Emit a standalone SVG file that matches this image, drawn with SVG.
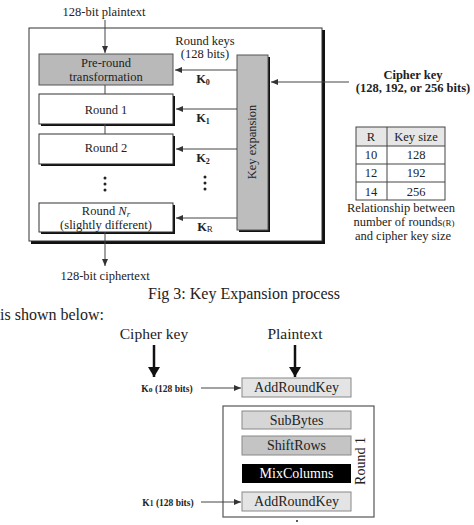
<svg xmlns="http://www.w3.org/2000/svg" width="474" height="525" viewBox="0 0 474 525">
<defs>
<style>
.t{font-family:'Liberation Serif','DejaVu Serif',serif}
.s11{font-size:12.5px}
.b{font-weight:bold}
.ln{stroke:#444;stroke-width:1;fill:none}
.box{fill:#fff;stroke:#333;stroke-width:1}
.sh{fill:#111}
</style>
<marker id="ah" markerWidth="8" markerHeight="8" refX="7" refY="4" orient="auto" markerUnits="userSpaceOnUse"><path d="M0,1 L7,4 L0,7 z" fill="#333"/></marker>
<marker id="ahb" markerWidth="12" markerHeight="12" refX="10" refY="6" orient="auto" markerUnits="userSpaceOnUse"><path d="M0,0 L10,6 L0,12 z" fill="#111"/></marker>
</defs>
<rect width="474" height="525" fill="#fff"/>
<g class="t" font-family="Liberation Serif, DejaVu Serif, serif" fill="#222">

<!-- Top diagram -->
<g id="outer">
<rect x="31" y="30" width="294" height="214" class="sh"/>
<rect x="29" y="28" width="293" height="213" class="box"/>
</g>
<g id="plaintext"><text x="104" y="16" class="s11" text-anchor="middle">128-bit plaintext</text></g>
<g id="preround">
<rect x="39" y="54" width="134" height="31" fill="#b9b9b9" stroke="#555"/>
<text x="106" y="67" class="s11" text-anchor="middle">Pre-round</text>
<text x="106" y="81" class="s11" text-anchor="middle">transformation</text>
</g>
<g id="round1">
<rect x="41" y="96" width="134" height="30" class="sh"/>
<rect x="39" y="94" width="134" height="30" class="box"/>
<text x="106" y="114" class="s11" text-anchor="middle">Round 1</text>
</g>
<g id="round2">
<rect x="41" y="136" width="134" height="30" class="sh"/>
<rect x="39" y="134" width="134" height="30" class="box"/>
<text x="106" y="152" class="s11" text-anchor="middle">Round 2</text>
</g>
<g id="dots1">
<circle cx="105" cy="178" r="1.5" fill="#222"/><circle cx="105" cy="184" r="1.5" fill="#222"/><circle cx="105" cy="190" r="1.5" fill="#222"/>
</g>
<g id="roundNr">
<rect x="41" y="205" width="134" height="29" class="sh"/>
<rect x="39" y="203" width="134" height="29" class="box"/>
<text x="106" y="215" class="s11" text-anchor="middle">Round <tspan font-style="italic">N</tspan><tspan font-style="italic" font-size="9" dy="2">r</tspan></text>
<text x="106" y="229" class="s11" text-anchor="middle">(slightly different)</text>
</g>
<g id="ciphertext"><text x="105" y="280" class="s11" text-anchor="middle">128-bit ciphertext</text></g>
<g id="keyexp">
<rect x="239" y="57" width="31" height="175" class="sh"/>
<rect x="237" y="55" width="31" height="175" fill="#bdbdbd" stroke="#555"/>
<text transform="translate(256,142) rotate(-90)" class="s11" text-anchor="middle">Key expansion</text>
</g>
<g id="roundkeys">
<text x="205" y="45" class="s11" text-anchor="middle">Round keys</text>
<text x="205" y="58" class="s11" text-anchor="middle">(128 bits)</text>
</g>
<g id="klabels">
<text x="203" y="83" class="s11 b" text-anchor="middle">K<tspan font-size="8" dy="2">0</tspan></text>
<text x="203" y="122" class="s11 b" text-anchor="middle">K<tspan font-size="8" dy="2">1</tspan></text>
<text x="203" y="162" class="s11 b" text-anchor="middle">K<tspan font-size="8" dy="2">2</tspan></text>
<text x="205" y="231" class="s11 b" text-anchor="middle">K<tspan font-size="9" font-weight="normal" dy="1">R</tspan></text>
<circle cx="205" cy="177" r="1.5" fill="#222"/><circle cx="205" cy="183" r="1.5" fill="#222"/><circle cx="205" cy="189" r="1.5" fill="#222"/>
</g>
<g id="cipherkey">
<text x="413" y="79" class="s11 b" text-anchor="middle">Cipher key</text>
<text x="413" y="92" class="s11 b" text-anchor="middle">(128, 192, or 256 bits)</text>
</g>
<g id="table">
<rect x="356" y="127" width="89" height="19" fill="#e6e6e6"/>
<rect x="356" y="127" width="89" height="73" fill="none" stroke="#444"/>
<line x1="387" y1="127" x2="387" y2="200" class="ln"/>
<line x1="356" y1="146" x2="445" y2="146" class="ln"/>
<line x1="356" y1="164" x2="445" y2="164" class="ln"/>
<line x1="356" y1="182" x2="445" y2="182" class="ln"/>
<text x="371" y="141" class="s11" text-anchor="middle">R</text>
<text x="416" y="141" class="s11" text-anchor="middle">Key size</text>
<text x="371" y="159" class="s11" text-anchor="middle">10</text>
<text x="416" y="159" class="s11" text-anchor="middle">128</text>
<text x="371" y="177" class="s11" text-anchor="middle">12</text>
<text x="416" y="177" class="s11" text-anchor="middle">192</text>
<text x="371" y="196" class="s11" text-anchor="middle">14</text>
<text x="416" y="196" class="s11" text-anchor="middle">256</text>
<text x="401" y="212" class="s11" text-anchor="middle">Relationship between</text>
<text x="404" y="226" class="s11" text-anchor="middle">number of rounds<tspan font-size="9">(R)</tspan></text>
<text x="403" y="240" class="s11" text-anchor="middle">and cipher key size</text>
</g>
<g id="connectors-top">
<line x1="105" y1="20" x2="105" y2="53" class="ln" marker-end="url(#ah)"/>
<line x1="105" y1="85" x2="105" y2="94" class="ln"/>
<line x1="105" y1="124" x2="105" y2="134" class="ln"/>
<line x1="105" y1="232" x2="105" y2="266" class="ln" marker-end="url(#ah)"/>
<line x1="237" y1="70" x2="175" y2="70" class="ln" marker-end="url(#ah)"/>
<line x1="237" y1="109" x2="176" y2="109" class="ln" marker-end="url(#ah)"/>
<line x1="237" y1="149" x2="176" y2="149" class="ln" marker-end="url(#ah)"/>
<line x1="237" y1="218" x2="176" y2="218" class="ln" marker-end="url(#ah)"/>
<line x1="349" y1="82" x2="271" y2="82" class="ln" marker-end="url(#ah)"/>
</g>
<text x="244" y="299" font-size="16" text-anchor="middle">Fig 3: Key Expansion process</text>
<text x="0" y="320" font-size="16">is shown below:</text>

<!-- Bottom diagram -->
<g id="cipherkey2"><text x="154" y="339" font-size="15.5" text-anchor="middle">Cipher key</text></g>
<g id="plaintext2"><text x="295" y="339" font-size="15.5" text-anchor="middle">Plaintext</text></g>
<g id="k0"><text x="167" y="392" font-size="9.5" class="b" text-anchor="middle">K<tspan font-size="7.5">o</tspan> (128 bits)</text></g>
<g id="addroundkey0">
<rect x="242" y="378" width="109" height="19" fill="#e4e4e4" stroke="#888"/>
<text x="296.5" y="392" font-size="14" text-anchor="middle">AddRoundKey</text>
</g>
<g id="round1box">
<rect x="223" y="406" width="151" height="111" fill="none" stroke="#555" stroke-width="1.2"/>
<text transform="translate(365,461) rotate(-90)" font-size="14" text-anchor="middle">Round 1</text>
</g>
<g id="subbytes">
<rect x="242" y="411" width="109" height="18" fill="#d6d6d6" stroke="#888"/>
<text x="296.5" y="425" font-size="14" text-anchor="middle">SubBytes</text>
</g>
<g id="shiftrows">
<rect x="242" y="436" width="109" height="19" fill="#c4c4c4" stroke="#888"/>
<text x="296.5" y="450" font-size="14" text-anchor="middle">ShiftRows</text>
</g>
<g id="mixcolumns">
<rect x="242" y="464" width="109" height="19" fill="#000"/>
<text x="296.5" y="478" font-size="14" text-anchor="middle" fill="#fff">MixColumns</text>
</g>
<g id="addroundkey1">
<rect x="242" y="492" width="109" height="19" fill="#e4e4e4" stroke="#888"/>
<text x="296.5" y="506" font-size="14" text-anchor="middle">AddRoundKey</text>
</g>
<g id="k1"><text x="168" y="506" font-size="9.5" class="b" text-anchor="middle">K<tspan font-size="7.5">1</tspan> (128 bits)</text></g>
<circle cx="297" cy="521" r="1" fill="#222"/>
<g id="connectors-bottom">
<line x1="154" y1="345" x2="154" y2="377" stroke="#111" stroke-width="2.5" marker-end="url(#ahb)"/>
<line x1="295" y1="345" x2="295" y2="377" stroke="#111" stroke-width="2.5" marker-end="url(#ahb)"/>
<line x1="201" y1="388" x2="241" y2="388" class="ln" marker-end="url(#ah)"/>
<line x1="201" y1="502" x2="241" y2="502" class="ln" marker-end="url(#ah)"/>
</g>
</g>
</svg>
